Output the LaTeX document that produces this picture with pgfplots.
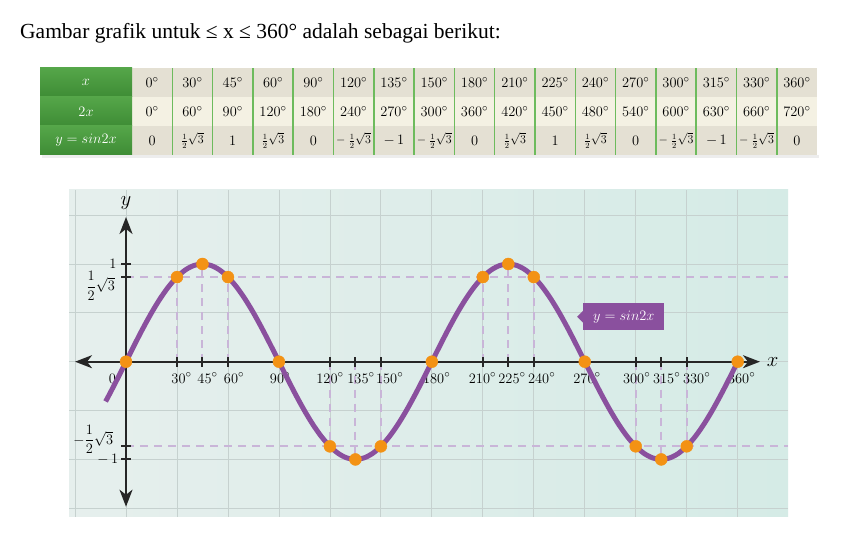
\documentclass[border=0pt]{standalone}
\usepackage{amsmath}
\usepackage{fontspec}
\usepackage{pgfplots}
\pgfplotsset{compat=1.18}
\usetikzlibrary{arrows.meta}
\newfontfamily\serifTNR{Liberation Serif}
\definecolor{curvec}{HTML}{8A509E}
\definecolor{dotc}{HTML}{F39214}
\definecolor{dashc}{HTML}{C9B5D8}
\definecolor{gridc}{HTML}{C6D1CF}
\definecolor{bgl}{HTML}{E6EFED}
\definecolor{bgr}{HTML}{D5EBE6}
\definecolor{hdrtop}{HTML}{55A649}
\definecolor{hdrbot}{HTML}{3E8C35}
\definecolor{rowa}{HTML}{E4E0D3}
\definecolor{rowb}{HTML}{F4F1E3}
\definecolor{sepc}{HTML}{6DBB5D}
\definecolor{axisc}{HTML}{262626}
\newcommand\hs{\mbox{\fontsize{12}{13}\selectfont$\tfrac{1}{2}\sqrt{3}$}}
\newcommand\mhs{\mbox{\fontsize{12}{13}\selectfont$-$\kern3pt$\tfrac{1}{2}\sqrt{3}$}}
\newcommand\dhs{\dfrac{1}{2}\sqrt{3}}
\begin{document}
\begin{tikzpicture}[x=1pt,y=1pt]
\path[use as bounding box, fill=white] (0,0) rectangle (855,544);
\node[anchor=base west, inner sep=0, font=\serifTNR\fontsize{21.5}{23}\selectfont] at (20,505.5) {Gambar grafik untuk ≤ x ≤ 360° adalah sebagai berikut:};
% table
\fill[black!7] (42,386) rectangle (819,389);
\fill[rowa] (132,447) rectangle (817,476);
\fill[rowb] (132,418) rectangle (817,447);
\fill[rowa] (132,389) rectangle (817,418);
\shade[top color=hdrtop, bottom color=hdrbot] (40,447) rectangle (132,476);
\shade[top color=hdrtop, bottom color=hdrbot] (40,418) rectangle (132,447);
\shade[top color=hdrtop, bottom color=hdrbot] (40,389) rectangle (132,418);
\foreach \k in {1,...,16} \draw[sepc, line width=1.5pt] ({132+40.3*\k},389) -- ({132+40.3*\k},476);
\begin{scope}[every node/.style={font=\fontsize{15}{17}\selectfont, inner sep=0}]
\node[white, font=\fontsize{15.5}{17}\selectfont] at (86,461.5) {$x$};
\node[white, font=\fontsize{15.5}{17}\selectfont] at (86,432.5) {$2x$};
\node[white, font=\fontsize{15.5}{17}\selectfont] at (86,403.5) {$y = sin2x$};
\foreach \a/\b/\c [count=\i from 0] in {0/0/0, 30/60/\hs, 45/90/1, 60/120/\hs, 90/180/0, 120/240/\mhs, 135/270/-\,1, 150/300/\mhs, 180/360/0, 210/420/\hs, 225/450/1, 240/480/\hs, 270/540/0, 300/600/\mhs, 315/630/-\,1, 330/660/\mhs, 360/720/0}{
  \node at ({152.15+40.3*\i},461.5) {$\a^\circ$};
  \node at ({152.15+40.3*\i},432.5) {$\b^\circ$};
  \node at ({152.15+40.3*\i},403.5) {$\c$};
}
\end{scope}
\begin{axis}[at={(69pt,27.3pt)}, anchor=south west, scale only axis,
  width=719pt, height=326.7pt,
  xmin=-33.55, xmax=389.6, ymin=-1.586, ymax=1.757,
  axis line style={draw=none},
  xtick={-30,0,...,360}, ytick={-1.5,-1,...,1.5},
  xticklabels={}, yticklabels={}, major tick length=0pt,
  grid=major, grid style={gridc, line width=0.8pt},
  axis background/.style={shade, left color=bgl, right color=bgr},
  clip=false]
% dashed guides
\addplot[dashc, line width=2pt, dash pattern=on 8pt off 6pt] coordinates {(0,0.866) (389.6,0.866)};
\addplot[dashc, line width=2pt, dash pattern=on 8pt off 6pt] coordinates {(0,-0.866) (389.6,-0.866)};
\pgfplotsinvokeforeach{30,60,210,240}{\addplot[dashc, line width=2pt, dash pattern=on 8pt off 6pt] coordinates {(#1,0) (#1,0.866)};}
\pgfplotsinvokeforeach{45,225}{\addplot[dashc, line width=2pt, dash pattern=on 8pt off 6pt] coordinates {(#1,0) (#1,1)};}
\pgfplotsinvokeforeach{120,150,300,330}{\addplot[dashc, line width=2pt, dash pattern=on 8pt off 6pt] coordinates {(#1,0) (#1,-0.866)};}
\pgfplotsinvokeforeach{135,315}{\addplot[dashc, line width=2pt, dash pattern=on 8pt off 6pt] coordinates {(#1,0) (#1,-1)};}
% axes
\draw[axisc, line width=2.2pt, {Stealth[length=17pt,width=13pt,inset=5pt]}-{Stealth[length=17pt,width=13pt,inset=5pt]}] (axis cs:-30,0) -- (axis cs:373.1,0);
\draw[axisc, line width=2.2pt, {Stealth[length=17pt,width=13pt,inset=5pt]}-{Stealth[length=17pt,width=13pt,inset=5pt]}] (axis cs:0,-1.484) -- (axis cs:0,1.481);
\pgfplotsinvokeforeach{30,45,60,90,120,135,150,180,210,225,240,270,300,315,330,360}{\draw[axisc, line width=2pt] (axis cs:#1,-0.05) -- (axis cs:#1,0.05);}
\pgfplotsinvokeforeach{-1,-0.866,0.866,1}{\draw[axisc, line width=2pt] (axis cs:-2.7,#1) -- (axis cs:2.7,#1);}
\node[font=\fontsize{20}{22}\selectfont] at (axis cs:380.5,0) {$x$};
\node[font=\fontsize{20}{22}\selectfont] at (axis cs:0,1.624) {$y$};
% tick labels
\begin{scope}[every node/.style={font=\fontsize{15}{17}\selectfont, inner sep=0, anchor=base}]
\node at (axis cs:-7.94,-0.218) {$0$};
\node at (axis cs:32.66,-0.218) {$30^\circ$};
\node at (axis cs:47.96,-0.218) {$45^\circ$};
\node at (axis cs:63.56,-0.218) {$60^\circ$};
\node at (axis cs:90.63,-0.218) {$90^\circ$};
\node at (axis cs:120.06,-0.218) {$120^\circ$};
\node at (axis cs:138.30,-0.218) {$135^\circ$};
\node at (axis cs:155.19,-0.218) {$150^\circ$};
\node at (axis cs:182.85,-0.218) {$180^\circ$};
\node at (axis cs:209.80,-0.218) {$210^\circ$};
\node at (axis cs:227.16,-0.218) {$225^\circ$};
\node at (axis cs:244.64,-0.218) {$240^\circ$};
\node at (axis cs:271.30,-0.218) {$270^\circ$};
\node at (axis cs:300.55,-0.218) {$300^\circ$};
\node at (axis cs:318.21,-0.218) {$315^\circ$};
\node at (axis cs:335.86,-0.218) {$330^\circ$};
\node at (axis cs:362.35,-0.218) {$360^\circ$};
\end{scope}
\begin{scope}[every node/.style={font=\fontsize{14}{16}\selectfont, inner sep=0, anchor=east}]
\node at (axis cs:-5.47,1) {$1$};
\node at (axis cs:-6.47,0.775) {$\dhs$};
\node at (axis cs:-7.47,-0.796) {$-\dhs$};
\node at (axis cs:-4.53,-0.996) {$-\,1$};
\end{scope}
% curve
\addplot[curvec, line width=5pt, smooth] coordinates {
(-12,-0.4067) (-10,-0.3420) (-5,-0.1736) (0,0) (5,0.1736) (10,0.3420) (15,0.5) (20,0.6428) (25,0.7660) (30,0.8660) (35,0.9397) (40,0.9848) (45,1)
(50,0.9848) (55,0.9397) (60,0.8660) (65,0.7660) (70,0.6428) (75,0.5) (80,0.3420) (85,0.1736) (90,0)
(95,-0.1736) (100,-0.3420) (105,-0.5) (110,-0.6428) (115,-0.7660) (120,-0.8660) (125,-0.9397) (130,-0.9848) (135,-1)
(140,-0.9848) (145,-0.9397) (150,-0.8660) (155,-0.7660) (160,-0.6428) (165,-0.5) (170,-0.3420) (175,-0.1736) (180,0)
(185,0.1736) (190,0.3420) (195,0.5) (200,0.6428) (205,0.7660) (210,0.8660) (215,0.9397) (220,0.9848) (225,1)
(230,0.9848) (235,0.9397) (240,0.8660) (245,0.7660) (250,0.6428) (255,0.5) (260,0.3420) (265,0.1736) (270,0)
(275,-0.1736) (280,-0.3420) (285,-0.5) (290,-0.6428) (295,-0.7660) (300,-0.8660) (305,-0.9397) (310,-0.9848) (315,-1)
(320,-0.9848) (325,-0.9397) (330,-0.8660) (335,-0.7660) (340,-0.6428) (345,-0.5) (350,-0.3420) (355,-0.1736) (360,0)
};
\addplot[dotc, only marks, mark=*, mark size=6pt, mark options={draw=dotc, fill=dotc}] coordinates {
(0,0) (30,0.866) (45,1) (60,0.866) (90,0) (120,-0.866) (135,-1) (150,-0.866) (180,0)
(210,0.866) (225,1) (240,0.866) (270,0) (300,-0.866) (315,-1) (330,-0.866) (360,0)
};
% label box
\node[fill=curvec, text=white, minimum width=81pt, minimum height=27pt, inner sep=0, font=\fontsize{15.5}{17}\selectfont] (lbl) at (axis cs:293.0,0.4606) {$y = sin2x$};
\fill[curvec] ([yshift=6pt]lbl.west) -- ++(-6pt,-6pt) -- ++(6pt,-6pt) -- cycle;
\end{axis}
\end{tikzpicture}
\end{document}
